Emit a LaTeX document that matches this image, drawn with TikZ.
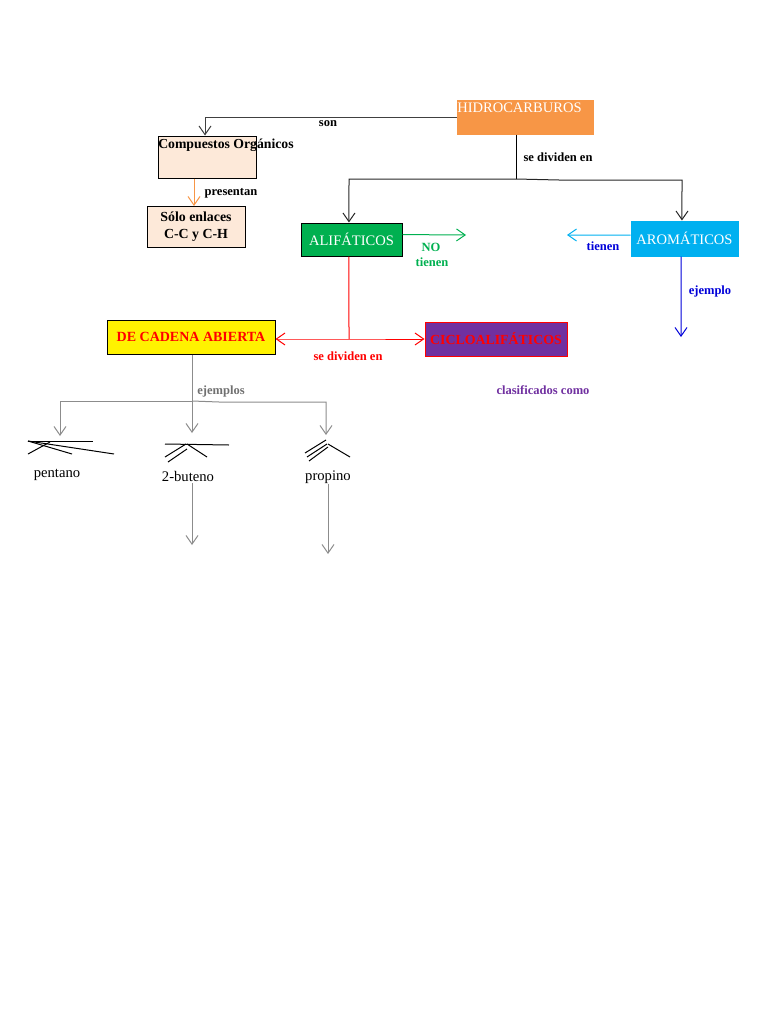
\documentclass[tikz,border=0pt]{standalone}
\usepackage{fontspec}
\setmainfont{Liberation Serif}
\usetikzlibrary{arrows.meta}

\definecolor{naranja}{HTML}{F79646}
\definecolor{crema}{HTML}{FDE9D9}
\definecolor{verde}{HTML}{00B050}
\definecolor{celeste}{HTML}{00B0F0}
\definecolor{morado}{HTML}{7030A0}
\definecolor{gris}{HTML}{8C8C8C}

\tikzset{
	caja/.style={draw=black, line width=0.75pt, inner sep=0pt},
	rotulo/.style={font=\fontsize{10.9}{12}\selectfont, inner sep=0pt},
	nota/.style={font=\fontsize{9.4}{10}\selectfont\bfseries, inner sep=0pt},
	nombre/.style={font=\fontsize{11}{12}\selectfont, inner sep=0pt},
	flecha/.style={-{Straight Barb[length=6.5pt,width=9pt]}, line width=0.75pt},
	enlace/.style={line width=0.75pt, black}
}

\begin{document}
\begin{tikzpicture}[x=0.75pt, y=-0.75pt]
	\useasboundingbox (0,0) rectangle (768,1024);
	% cajas
	\node[caja, draw=naranja, fill=naranja, minimum width=102pt, minimum height=25.5pt] (hidrocarburos) at (525,117) {};
	\node[caja, fill=crema, minimum width=73.5pt, minimum height=31.5pt] (compuestos) at (207,157) {};
	\node[caja, fill=crema, minimum width=73.5pt, minimum height=30.75pt, align=center, font=\fontsize{10.4}{12.5}\selectfont\bfseries] (enlaces) at (196,227) {Sólo enlaces\\C-C y C-H};
	\node[caja, fill=verde, text=white, font=\fontsize{10.9}{12}\selectfont, minimum width=75.75pt, minimum height=24.75pt] (alifaticos) at (351.5,239.5) {ALIFÁTICOS};
	\node[caja, draw=celeste, fill=celeste, text=white, font=\fontsize{10.9}{12}\selectfont, minimum width=80.25pt, minimum height=26.25pt] (aromaticos) at (684.5,238.5) {AROMÁTICOS};
	\node[caja, fill=yellow, text=red, font=\fontsize{10.5}{12}\selectfont\bfseries, minimum width=126pt, minimum height=25.5pt] (cadena) at (191,337) {DE CADENA ABIERTA};
	\node[caja, draw=red, fill=morado, text=red, font=\fontsize{10.4}{12}\selectfont\bfseries, minimum width=106.5pt, minimum height=25.5pt] (ciclo) at (496,339) {CICLOALIFÁTICOS};
	\node[rotulo, text=white, anchor=west] (hidrotexto) at (457,108) {HIDROCARBUROS};
	\node[rotulo, font=\fontsize{10.3}{12}\selectfont\bfseries, anchor=west] (compuestostexto) at (158,145) {Compuestos Orgánicos};
	% puntos libres
	\coordinate (rama) at (516,179);
	\coordinate (ramaizq) at (349,179);
	\coordinate (ramamedia) at (559,180);
	\coordinate (ramader) at (682,180);
	\coordinate (cruce) at (349,339);
	\coordinate (verdefin) at (466,235);
	\coordinate (celestefin) at (567,235);
	\coordinate (azulfin) at (681,337);
	\coordinate (ejemplosizq) at (60,401);
	\coordinate (ejemplosmedia) at (219,402);
	\coordinate (ejemplosder) at (326,402);
	\coordinate (pentanofin) at (60,436);
	\coordinate (butenofin) at (192,433);
	\coordinate (propinofin) at (326,435);
	\coordinate (cruceejemplos) at (192,401);
	\coordinate (butenobajo) at (192,545);
	\coordinate (propinobajo) at (328,554);
	% conectores de arriba
	\draw[flecha, black!75] (hidrocarburos.west) -| ([xshift=-1.5pt]compuestos.north);
	\draw[enlace] ([xshift=-6.75pt]hidrocarburos.south) -- (rama);
	\draw[flecha, black!85] (rama) -- (ramaizq) -- ([xshift=-1.9pt]alifaticos.north);
	\draw[flecha, black!85] (rama) -- (ramamedia) -- (ramader) -- ([xshift=-1.9pt]aromaticos.north);
	\draw[flecha, naranja] ([xshift=-9.75pt]compuestos.south) -- ([xshift=-1.5pt]enlaces.north);
	\draw[flecha, verde] ([yshift=3.7pt]alifaticos.east) -- (verdefin);
	\draw[flecha, celeste] ([yshift=2.6pt]aromaticos.west) -- (celestefin);
	\draw[flecha, blue!85!black] ([xshift=-2.6pt]aromaticos.south) -- (azulfin);
	% conectores rojos
	\draw[red, line width=0.75pt] ([xshift=-1.9pt]alifaticos.south) -- (cruce);
	\draw[flecha, {Straight Barb[length=6.5pt,width=9pt]}-{Straight Barb[length=6.5pt,width=9pt]}, red] ([yshift=-1.5pt]cadena.east) -- (cruce) -- (ciclo.west);
	% conectores grises
	\draw[flecha, gris] ([xshift=0.75pt]cadena.south) -- (butenofin);
	\draw[flecha, gris] (cruceejemplos) -- (ejemplosizq) -- (pentanofin);
	\draw[flecha, gris] (cruceejemplos) -- (ejemplosmedia) -- (ejemplosder) -- (propinofin);
	% moleculas
	\draw[enlace] (28,441) -- (93,441);
	\draw[enlace] (28,441) -- (72,454);
	\draw[enlace] (28,441) -- (114,454);
	\draw[enlace] (50,442) -- (28,454);
	\draw[enlace] (165,444) -- (229,445);
	\draw[enlace] (187,444) -- (207,457);
	\draw[enlace] (186,444) -- (165,457);
	\draw[enlace] (187,449) -- (168,462);
	\draw[enlace] (326,440) -- (305,453);
	\draw[enlace] (327,444) -- (307,457);
	\draw[enlace] (328,447) -- (309,461);
	\draw[enlace] (328,444) -- (350,457);
	% nombres
	\node[nombre] (pentano) at (57,475) {pentano};
	\node[nombre] (buteno) at (188,476) {2-buteno};
	\node[nombre] (propino) at (328,477) {propino};
	\draw[flecha, gris] (192,483) -- (butenobajo);
	\draw[flecha, gris] (propino.south) -- (propinobajo);
	% notas
	\node[nota] (son) at (328,124) {son};
	\node[nota] (dividen) at (558,157) {se dividen en};
	\node[nota] (presentan) at (231,193) {presentan};
	\node[nota, text=verde] (no) at (431,247) {NO};
	\node[nota, text=verde] (notienen) at (432,262) {tienen};
	\node[nota, text=blue!85!black] (tienen) at (603,246) {tienen};
	\node[nota, text=blue!85!black] (ejemplo) at (710,291) {ejemplo};
	\node[nota, text=red] (dividenrojo) at (348,356) {se dividen en};
	\node[nota, text=morado] (clasificados) at (543,390) {clasificados como};
	\node[nota, text=gris!80!black] (ejemplos) at (221,391) {ejemplos};
\end{tikzpicture}
\end{document}
